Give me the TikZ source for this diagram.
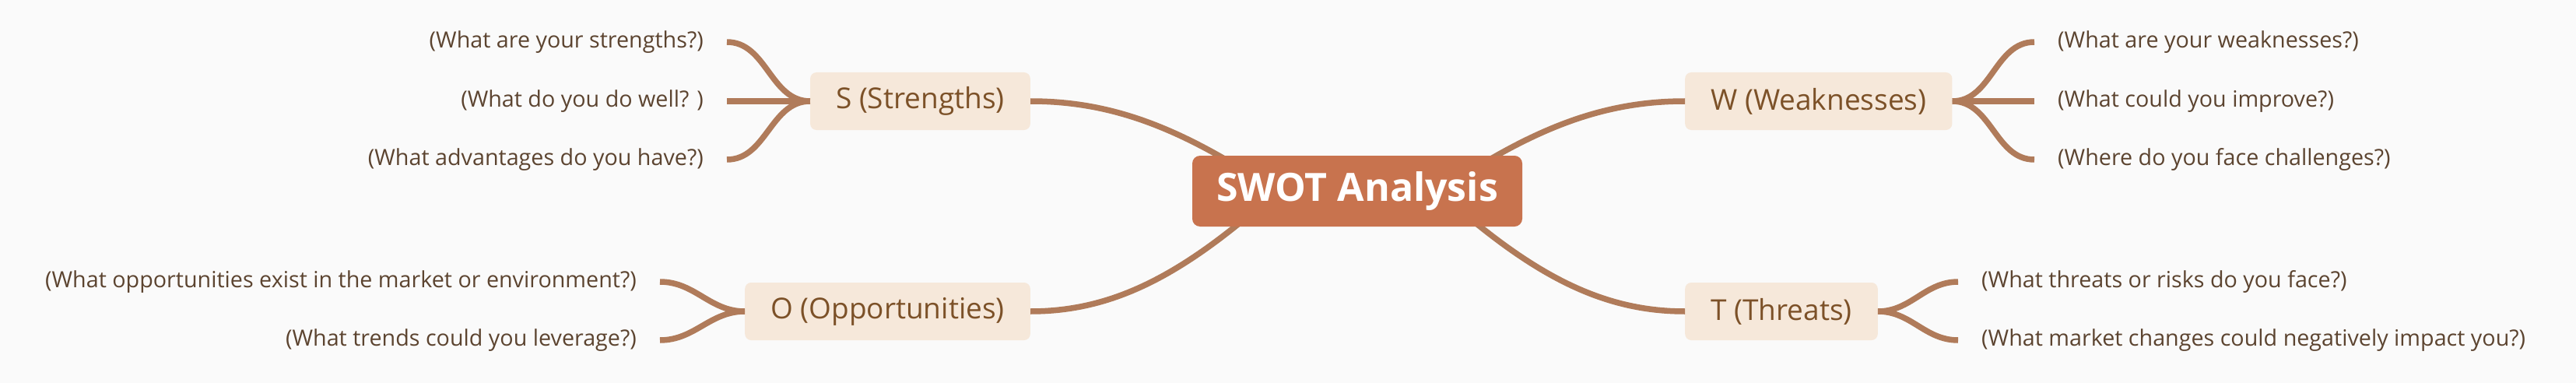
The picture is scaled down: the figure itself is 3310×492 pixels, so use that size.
\documentclass[tikz,border=0pt]{standalone}
\usepackage{fontspec}
\setmainfont{Open Sans}
\definecolor{bgc}{HTML}{FAFAFA}
\definecolor{rootc}{HTML}{C8734E}
\definecolor{topicc}{HTML}{F6E8DA}
\definecolor{topictxt}{HTML}{7C5128}
\definecolor{leaftxt}{HTML}{5C4430}
\definecolor{linec}{HTML}{B07B5A}

\begin{document}
\begin{tikzpicture}
  [x=1pt,y=-1pt,
  root/.style={rectangle,rounded corners=10pt,fill=rootc,text=white,
                  font=\fontsize{50}{60}\selectfont\bfseries,
                  minimum width=424pt,minimum height=91pt,inner sep=0pt},
  topic/.style={rectangle,rounded corners=8pt,fill=topicc,text=topictxt,
                  font=\fontsize{37}{44}\selectfont,
                  minimum height=74pt,inner xsep=33pt,inner ysep=0pt},
  leafl/.style={anchor=east,text=leaftxt,font=\fontsize{28.7}{34}\selectfont,
                  inner xsep=30pt,inner ysep=0pt},
  leafr/.style={leafl,anchor=west},
  branch/.style={draw=linec,line width=7.5pt},
  twig/.style={draw=linec,line width=7.5pt,out=180,in=0}
                  ]
  \fill[bgc] (0,0) rectangle (3310,492);
  \useasboundingbox (0,0) rectangle (3310,492);

  % topics
  \node[topic,anchor=east] (s) at (1324,130) {S (Strengths)};
  \node[topic,anchor=west] (w) at (2165,130) {W (Weaknesses)};
  \node[topic,anchor=east] (o) at (1324,400) {O (Opportunities)};
  \node[topic,anchor=west] (t) at (2165,400) {T (Threats)};
  \coordinate (rootl) at (1640,246);
  \coordinate (rootr) at (1849,246);

  % leaves
  \node[leafl] (s1) at (934,54) {(What are your strengths?)};
  \node[leafl] (s2) at (934,130) {(What do you do well? )};
  \node[leafl] (s3) at (934,205) {(What advantages do you have?)};
  \node[leafr] (w1) at (2614,54) {(What are your weaknesses?)};
  \node[leafr] (w2) at (2614,130) {(What could you improve?)};
  \node[leafr] (w3) at (2614,205) {(Where do you face challenges?)};
  \node[leafl] (o1) at (848,362) {(What opportunities exist in the market or environment?)};
  \node[leafl] (o2) at (848,437) {(What trends could you leverage?)};
  \node[leafr] (t1) at (2516,362) {(What threats or risks do you face?)};
  \node[leafr] (t2) at (2516,437) {(What market changes could negatively impact you?)};

  \draw[branch] (s.east) .. controls +(106,0) and +(-120,-81) .. (rootl);
  \draw[branch] (o.east) .. controls +(106,0) and +(-120,108) .. (rootl);
  \draw[branch] (w.west) .. controls +(-106,0) and +(120,-81) .. (rootr);
  \draw[branch] (t.west) .. controls +(-106,0) and +(120,108) .. (rootr);
  \draw[twig] (s.west) to (s1.east);
  \draw[twig] (s.west) to (s2.east);
  \draw[twig] (s.west) to (s3.east);
  \draw[twig] (o.west) to (o1.east);
  \draw[twig] (o.west) to (o2.east);
  \draw[twig,out=0,in=180] (w.east) to (w1.west);
  \draw[twig,out=0,in=180] (w.east) to (w2.west);
  \draw[twig,out=0,in=180] (w.east) to (w3.west);
  \draw[twig,out=0,in=180] (t.east) to (t1.west);
  \draw[twig,out=0,in=180] (t.east) to (t2.west);

  \node[root] (swot) at (1744,245.5) {SWOT Analysis};
\end{tikzpicture}
\end{document}
